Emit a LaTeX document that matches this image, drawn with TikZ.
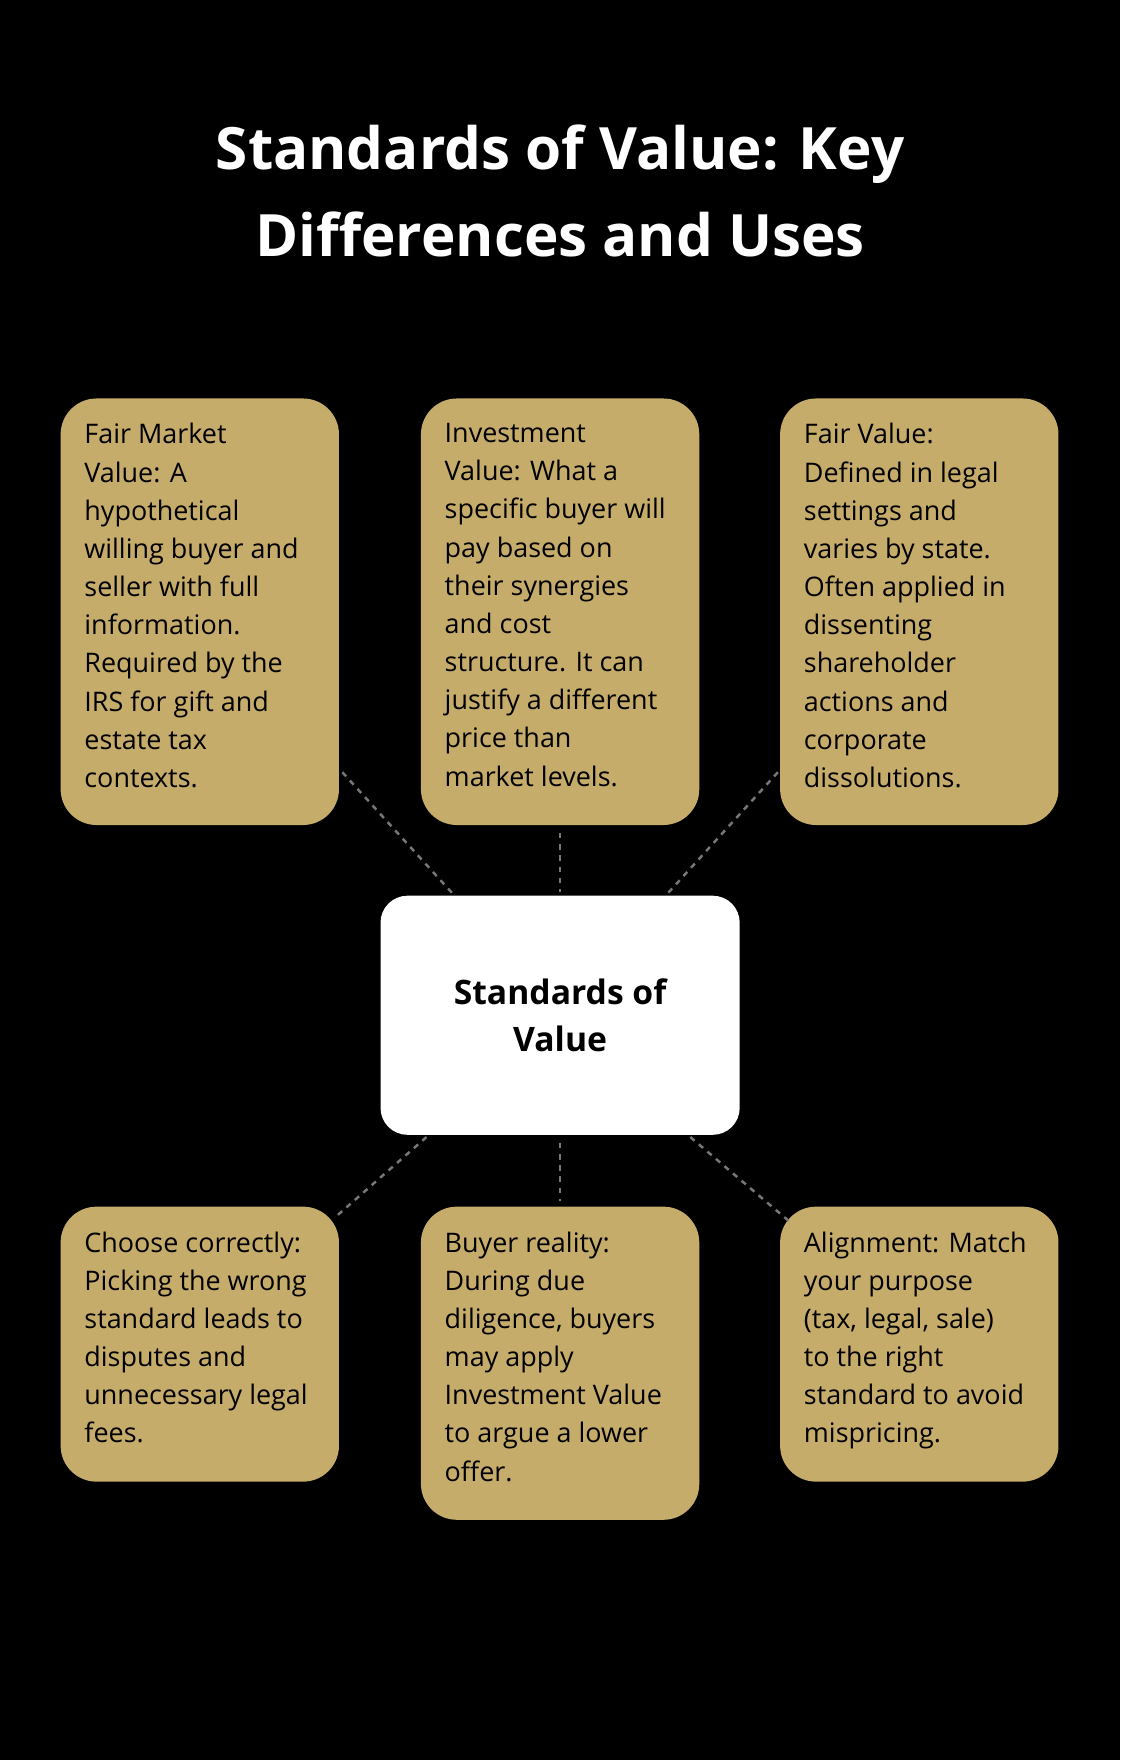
\documentclass[tikz,border=0pt]{standalone}
\usepackage{fontspec}
\setmainfont{Open Sans}
\definecolor{gold}{HTML}{C6AC6A}
\definecolor{dash}{HTML}{777777}
\begin{document}
\begin{tikzpicture}[x=1pt,y=-1pt,
  card/.style={fill=gold,rounded corners=32pt},
  body/.style={anchor=north west,align=left,inner sep=0pt,font=\fontsize{24}{34}\selectfont,text=black},
  link/.style={draw=dash,line width=2.2pt,dash pattern=on 5pt off 5pt}]
\fill[black] (0,0) rectangle (998,1568);
\useasboundingbox (0,0) rectangle (998,1568);
\node[align=center,text=white,font=\fontsize{52}{78}\bfseries\selectfont] (title) at (499,170) {Standards of Value: Key\\Differences and Uses};
% top cards
\fill[card] (54,355) rectangle (302,735);
\fill[card] (375,355) rectangle (623,735);
\fill[card] (695,355) rectangle (943,735);
\node[body] (t1) at (75,377) {Fair Market\\Value: A\\hypothetical\\willing buyer and\\seller with full\\information.\\Required by the\\IRS for gift and\\estate tax\\contexts.};
\node[body] (t2) at (396,377) {Investment\\Value: What a\\specific buyer will\\pay based on\\their synergies\\and cost\\structure. It can\\justify a different\\price than\\market levels.};
\node[body] (t3) at (716,377) {Fair Value:\\Defined in legal\\settings and\\varies by state.\\Often applied in\\dissenting\\shareholder\\actions and\\corporate\\dissolutions.};
% center
\node[fill=white,rounded corners=24pt,minimum width=320pt,minimum height=213pt,align=center,font=\fontsize{30}{42}\bfseries\selectfont] (c) at (499,904.5) {Standards of\\Value};
% bottom cards
\fill[card] (54,1075) rectangle (302,1320);
\fill[card] (375,1075) rectangle (623,1354);
\fill[card] (695,1075) rectangle (943,1320);
\node[body] (b1) at (75,1097) {Choose correctly:\\Picking the wrong\\standard leads to\\disputes and\\unnecessary legal\\fees.};
\node[body] (b2) at (396,1097) {Buyer reality:\\During due\\diligence, buyers\\may apply\\Investment Value\\to argue a lower\\offer.};
\node[body] (b3) at (716,1097) {Alignment: Match\\your purpose\\(tax, legal, sale)\\to the right\\standard to avoid\\mispricing.};
% connectors
\coordinate (a1) at (305,688); \coordinate (a2) at (405,798);
\coordinate (a3) at (499,742); \coordinate (a4) at (499,795);
\coordinate (a5) at (693,688); \coordinate (a6) at (593,798);
\coordinate (d1) at (380,1013); \coordinate (d2) at (298,1085);
\coordinate (d3) at (499,1018); \coordinate (d4) at (499,1070);
\coordinate (d5) at (615,1013); \coordinate (d6) at (703,1088);
\draw[link] (a1) -- (a2);
\draw[link] (a3) -- (a4);
\draw[link] (a5) -- (a6);
\draw[link] (d1) -- (d2);
\draw[link] (d3) -- (d4);
\draw[link] (d5) -- (d6);
\end{tikzpicture}
\end{document}
